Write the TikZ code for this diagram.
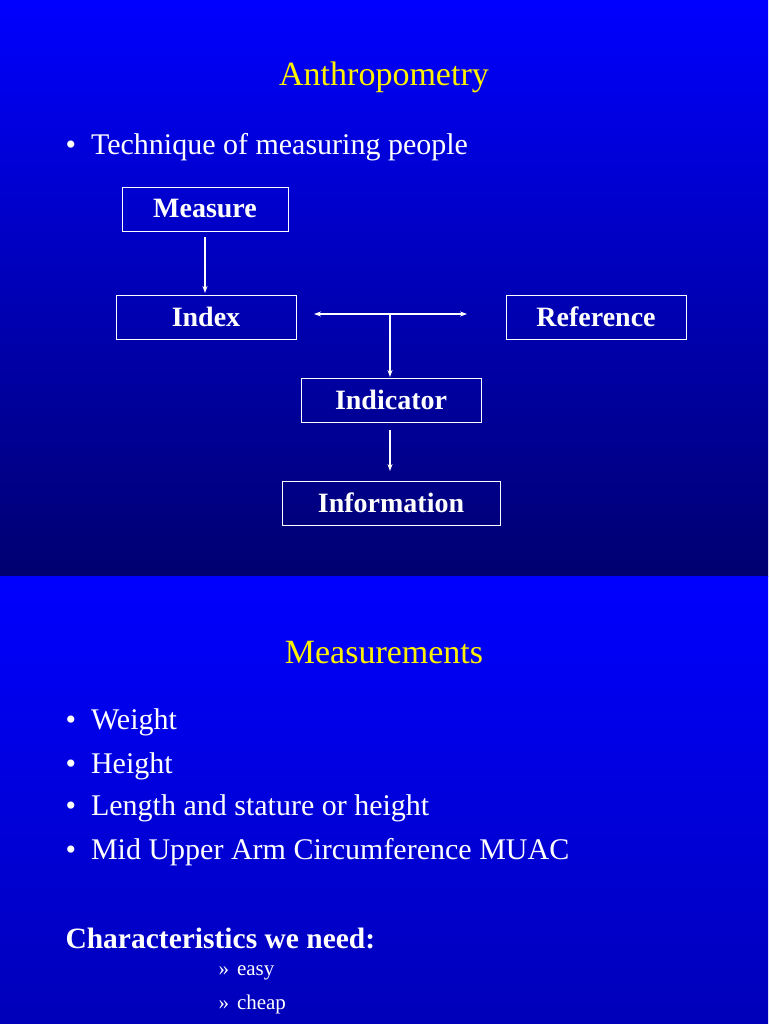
\documentclass[tikz,border=0pt]{standalone}
\usepackage{fontspec}
\setmainfont{Liberation Serif}
\usetikzlibrary{arrows.meta}
\begin{document}
\begin{tikzpicture}[x=1pt,y=-1pt,
  box/.style={draw=white,line width=0.8pt,minimum height=44pt,text=white,font=\fontsize{28}{30}\selectfont\bfseries,inner sep=0pt},
  arr/.style={draw=white,line width=1.2pt,-{Stealth[length=7pt,width=5pt]}},
  ttl/.style={text=yellow,font=\fontsize{34}{36}\selectfont},
  bul/.style={text=white,anchor=west,font=\fontsize{30}{32}\selectfont},
  sub/.style={text=white,anchor=west,font=\fontsize{21}{23}\selectfont}]
\useasboundingbox (0,0) rectangle (768,1024);
\shade[top color={rgb,255:red,0;green,0;blue,255},bottom color={rgb,255:red,0;green,0;blue,112}] (0,0) rectangle (768,576);
\shade[top color={rgb,255:red,0;green,0;blue,255},bottom color={rgb,255:red,0;green,0;blue,185}] (0,576) rectangle (768,1024);
\node[ttl] (t1) at (384,77) {Anthropometry};
\node[bul] (b1) at (62,147) {•\hspace{15pt}Technique of measuring people};
\node[box,minimum width=166pt] (meas) at (205,209) {Measure};
\node[box,minimum width=180pt] (index) at (206,317) {Index};
\node[box,minimum width=180pt] (ref) at (596,317) {Reference};
\node[box,minimum width=180pt] (ind) at (391,400) {Indicator};
\node[box,minimum width=218pt] (info) at (391,503) {Information};
\coordinate (m0) at (205,237);
\coordinate (m1) at (205,293);
\coordinate (L) at (314,314);
\coordinate (R) at (467,314);
\coordinate (M) at (390,314);
\coordinate (i1) at (390,377);
\coordinate (n0) at (390,430);
\coordinate (n1) at (390,471);
\draw[arr] (m0) -- (m1);
\draw[arr,{Stealth[length=7pt,width=5pt]}-{Stealth[length=7pt,width=5pt]}] (L) -- (R);
\draw[arr] (M) -- (i1);
\draw[arr] (n0) -- (n1);
\node[ttl] (t2) at (384,653) {Measurements};
\node[bul] (m1) at (62,722) {•\hspace{15pt}Weight};
\node[bul] (m2) at (62,766) {•\hspace{15pt}Height};
\node[bul] (m3) at (62,808) {•\hspace{15pt}Length and stature or height};
\node[bul] (m4) at (62,852) {•\hspace{15pt}Mid Upper Arm Circumference MUAC};
\node[bul,font=\fontsize{29.5}{31}\selectfont\bfseries] (ch) at (62,938) {Characteristics we need:};
\node[sub] (e1) at (215,973) {»\hspace{8pt}easy};
\node[sub] (e2) at (215,1004) {»\hspace{8pt}cheap};
\end{tikzpicture}
\end{document}
